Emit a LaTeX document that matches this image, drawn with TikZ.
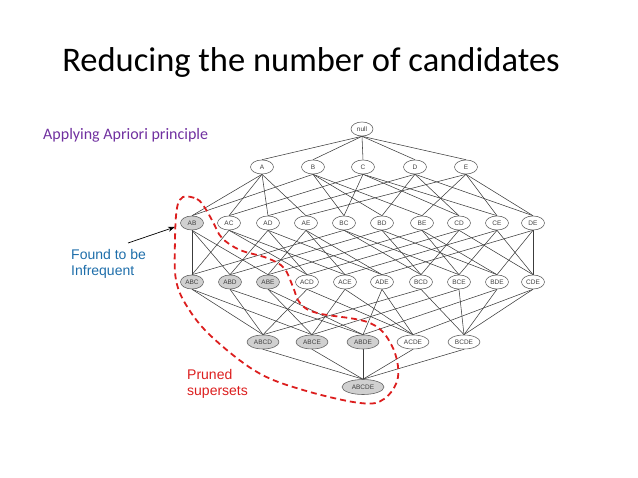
\documentclass[tikz,border=0pt]{standalone}
\usepackage{fontspec}
\setmainfont{Carlito}
\newfontfamily\arialf{Liberation Sans}
\usetikzlibrary{shapes.geometric,arrows.meta,backgrounds}
\definecolor{apurple}{RGB}{112,48,160}
\definecolor{fblue}{RGB}{30,110,170}
\definecolor{pred}{RGB}{220,30,30}
\definecolor{nfill}{RGB}{208,208,208}
\definecolor{nedge}{RGB}{100,100,100}
\definecolor{ecol}{RGB}{60,60,60}
\tikzset{
  itm/.style={ellipse,draw=nedge,line width=0.6pt,fill=white,inner sep=0pt,
    minimum width=23pt,minimum height=14pt,font=\arialf\fontsize{6.5}{7}\selectfont,text=black!75},
  itmw/.style={itm,minimum width=32pt},
  itmx/.style={itm,minimum width=42pt,minimum height=15pt},
  infreq/.style={fill=nfill},
  lnk/.style={draw=ecol,line width=0.55pt},
  prune/.style={draw=pred,line width=1.8pt,dash pattern=on 6pt off 4pt},
  lbl/.style={anchor=north west,align=left,inner sep=0pt,font=\arialf\fontsize{14}{16}\selectfont},
}
\begin{document}
\begin{tikzpicture}[x=1pt,y=-1pt]
\useasboundingbox (0,0) rectangle (638,478);
\node[anchor=base,inner sep=0pt] (title) at (311,72) {\fontsize{34.5}{40}\selectfont Reducing the number of candidates};
\node[anchor=base west,inner sep=0pt,text=apurple] (apr) at (43,140) {\fontsize{16}{19}\selectfont Applying Apriori principle};
% level 0
\node[itm,minimum width=22pt] (null) at (362,129) {null};
% level 1
\foreach \n/\x in {A/262,B/313,C/363,D/415,E/466}{\node[itm] (\n) at (\x,167) {\n};}
% level 2
\node[itm,infreq] (AB) at (192,223) {AB};
\foreach \n/\x in {AC/229,AD/268,AE/306,BC/344,BD/382,BE/422,CD/459,CE/497,DE/533}{\node[itm] (\n) at (\x,223) {\n};}
% level 3
\foreach \n/\x in {ABC/192,ABD/230,ABE/268}{\node[itm,infreq] (\n) at (\x,282) {\n};}
\foreach \n/\x in {ACD/307,ACE/345,ADE/382,BCD/421,BCE/459,BDE/497,CDE/533}{\node[itm] (\n) at (\x,282) {\n};}
% level 4
\foreach \n/\x in {ABCD/263,ABCE/312,ABDE/363}{\node[itmw,infreq] (\n) at (\x,342) {\n};}
\foreach \n/\x in {ACDE/413,BCDE/464}{\node[itmw] (\n) at (\x,342) {\n};}
% level 5
\node[itmx,infreq] (ABCDE) at (363,387) {ABCDE};
\begin{pgfonlayer}{background}
\foreach \l in {A,B,C,D,E}{\draw[lnk] (null.south) -- (\l.north);}
\foreach \u/\l in {A/AB,A/AC,A/AD,A/AE,B/AB,B/BC,B/BD,B/BE,C/AC,C/BC,C/CD,C/CE,D/AD,D/BD,D/CD,D/DE,E/AE,E/BE,E/CE,E/DE}{\draw[lnk] (\u.south) -- (\l.north);}
\foreach \l/\a/\b/\c in {ABC/AB/AC/BC,ABD/AB/AD/BD,ABE/AB/AE/BE,ACD/AC/AD/CD,ACE/AC/AE/CE,ADE/AD/AE/DE,BCD/BC/BD/CD,BCE/BC/BE/CE,BDE/BD/BE/DE,CDE/CD/CE/DE}{
  \draw[lnk] (\a.south) -- (\l.north);
  \draw[lnk] (\b.south) -- (\l.north);
  \draw[lnk] (\c.south) -- (\l.north);}
\foreach \l/\a/\b/\c/\d in {ABCD/ABC/ABD/ACD/BCD,ABCE/ABC/ABE/ACE/BCE,ABDE/ABD/ABE/ADE/BDE,ACDE/ACD/ACE/ADE/CDE,BCDE/BCD/BCE/BDE/CDE}{
  \draw[lnk] (\a.south) -- (\l.north);
  \draw[lnk] (\b.south) -- (\l.north);
  \draw[lnk] (\c.south) -- (\l.north);
  \draw[lnk] (\d.south) -- (\l.north);}
\foreach \u in {ABCD,ABCE,ABDE,ACDE,BCDE}{\draw[lnk] (\u.south) -- (ABCDE.north);}
\end{pgfonlayer}
% labels
\node[lbl,text=fblue] (found) at (71,249) {Found to be\\Infrequent};
\coordinate (arst) at (128,243);
\coordinate (arend) at (175,227);
\draw[-{Stealth[length=7pt,width=5pt]},line width=0.7pt] (arst) -- (arend);
\node[lbl,text=pred] (pruned) at (187,369) {Pruned\\supersets};
% pruned region
\draw[prune] plot[smooth cycle,tension=0.6] coordinates {
 (183,197) (197,199) (205,208) (213,222) (222,238) (240,250) (267,258) (284,268)
 (293,287) (300,303) (317,313) (370,323) (392,346) (398,377) (384,399) (360,403)
 (303,390) (257,372) (212,337) (188,308) (176,280) (175,240) (177,208)};
\end{tikzpicture}
\end{document}
